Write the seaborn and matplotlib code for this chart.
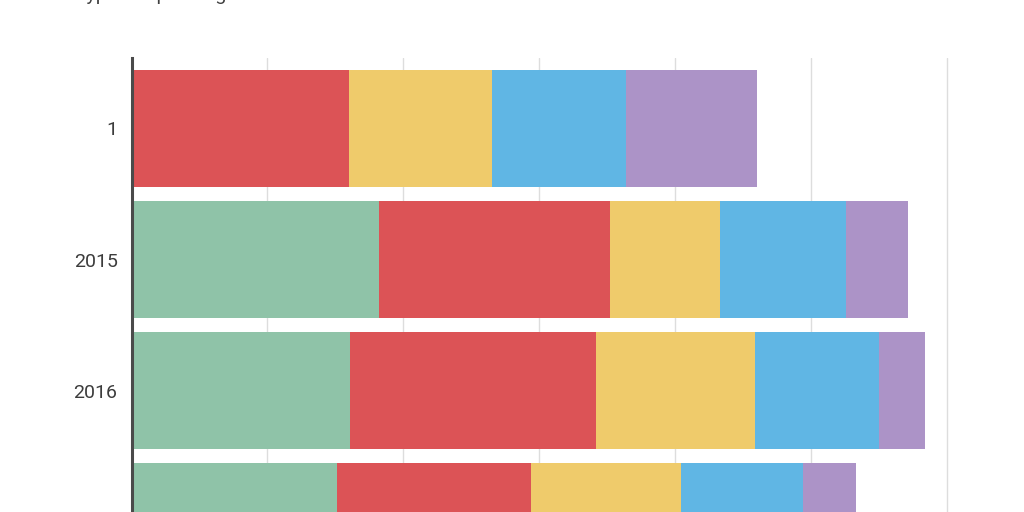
import numpy as np
import pandas as pd
import matplotlib
matplotlib.use("Agg")
import matplotlib.pyplot as plt
import seaborn as sns

sns.set_theme(style="white")
plt.rcParams["font.family"] = ["Roboto", "DejaVu Sans"]

years = ["1", "2015", "2016", "2017"]
series = ["Green", "Red", "Yellow", "Blue", "Purple"]
green = [0.0, 18.2, 16.1, 15.1]
red = [16.0, 17.0, 18.1, 14.3]
yellow = [10.5, 8.1, 11.7, 11.0]
blue = [9.9, 9.3, 9.1, 9.0]
purple = [9.6, 4.5, 3.4, 3.9]
colors = ["#8fc3a8", "#dc5356", "#efcb6b", "#60b6e4", "#ac93c7"]

df = pd.DataFrame({"year": years, "Green": green, "Red": red,
                   "Yellow": yellow, "Blue": blue, "Purple": purple})
cum = df[series].cumsum(axis=1)

fig = plt.figure(figsize=(10.24, 5.12), dpi=100)
ax = fig.add_axes([131.5 / 1024, 0, 1 - 131.5 / 1024, 454 / 512])

# stacked bars: draw the longest (cumulative) first, shorter on top
for name, col in reversed(list(zip(series, colors))):
    sns.barplot(x=cum[name], y=df["year"], color=col, orient="h",
                width=0.893, saturation=1, linewidth=0, ax=ax, zorder=2)

ax.set_xlim(0, 893 / 13.6)
ax.set_ylim(2.927, -0.538)
ax.set_xticks([10, 20, 30, 40, 50, 60])
ax.xaxis.grid(True, color="#dddddd", linewidth=1, zorder=0)
ax.set_axisbelow(True)
ax.set_xlabel("")
ax.set_ylabel("")
ax.tick_params(axis="x", labelbottom=False, length=0)
ax.tick_params(axis="y", length=0, pad=10, labelsize=14, labelcolor="#3c3c3c")
for s in ["top", "right", "bottom"]:
    ax.spines[s].set_visible(False)
ax.spines["left"].set_color("#4a4a4a")
ax.spines["left"].set_linewidth(2.2)

fig.text(75 / 1024, 1.0, "Type of Spending", fontsize=14, color="#404040",
         ha="left", va="baseline")

fig.savefig("out.png", dpi=100)
